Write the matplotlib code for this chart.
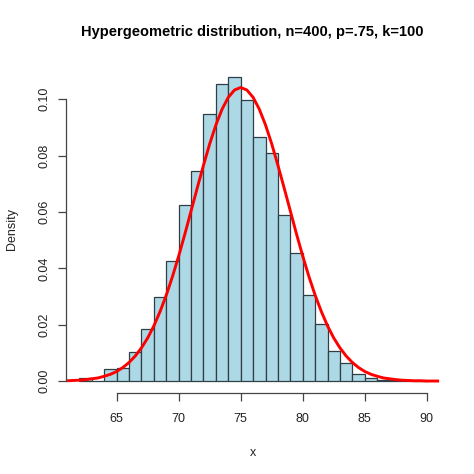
import matplotlib
matplotlib.use("Agg")
import matplotlib.pyplot as plt

# histogram (density), unit-wide bins from 62 to 90
bin_left = list(range(62, 90))
density = [0.0009, 0.0000, 0.0044, 0.0047, 0.0104, 0.0183, 0.0299, 0.0425,
           0.0626, 0.0746, 0.0949, 0.1053, 0.1080, 0.0996, 0.0867, 0.0808,
           0.0589, 0.0456, 0.0307, 0.0201, 0.0107, 0.0065, 0.0024, 0.0009,
           0.0004, 0.0002, 0.0000, 0.0001]

# red density curve
curve_x = [61, 61.5, 62, 62.5, 63, 63.5, 64, 64.5, 65, 65.5, 66, 66.5, 67, 67.5,
           68, 68.5, 69, 69.5, 70, 70.5, 71, 71.5, 72, 72.5, 73, 73.5, 74, 74.5,
           75, 75.5, 76, 76.5, 77, 77.5, 78, 78.5, 79, 79.5, 80, 80.5, 81, 81.5,
           82, 82.5, 83, 83.5, 84, 84.5, 85, 85.5, 86, 86.5, 87, 87.5, 88, 88.5,
           89, 89.5, 90, 90.5, 91]
curve_y = [0.0001, 0.0002, 0.0003, 0.0005, 0.0008, 0.0011, 0.0017, 0.0024,
           0.0034, 0.0048, 0.0066, 0.0089, 0.0118, 0.0153, 0.0196, 0.0247,
           0.0305, 0.0371, 0.0444, 0.0522, 0.0604, 0.0686, 0.0766, 0.0842,
           0.0909, 0.0965, 0.1007, 0.1033, 0.1042, 0.1033, 0.1007, 0.0965,
           0.0909, 0.0842, 0.0766, 0.0686, 0.0604, 0.0522, 0.0444, 0.0371,
           0.0305, 0.0247, 0.0196, 0.0153, 0.0118, 0.0089, 0.0066, 0.0048,
           0.0034, 0.0024, 0.0017, 0.0011, 0.0008, 0.0005, 0.0003, 0.0002,
           0.0001, 0.0001, 0.0000, 0.0000, 0.0000]

x_ticks = [65, 70, 75, 80, 85, 90]
y_ticks = [0.00, 0.02, 0.04, 0.06, 0.08, 0.10]

plt.rcParams["font.family"] = ["Liberation Sans", "DejaVu Sans"]

W = 474
fig = plt.figure(figsize=(4.74, 4.74), dpi=100)
ax = fig.add_axes([65.6 / W, (W - 393.2) / W, 375 / W, 328.6 / W])

ax.bar(bin_left, density, width=1, align="edge", color="#add8e6",
       edgecolor="#2f3f45", linewidth=0.9)
ax.plot(curve_x, curve_y, color="red", linewidth=2.1, solid_capstyle="butt")

ax.set_xlim(60.88, 91.12)
ax.set_ylim(-0.00432, 0.11232)

for s in ["top", "right"]:
    ax.spines[s].set_visible(False)
ax.spines["left"].set_bounds(0, 0.10)
ax.spines["bottom"].set_bounds(65, 90)
for s in ["left", "bottom"]:
    ax.spines[s].set_color("#444444")
    ax.spines[s].set_linewidth(0.9)

ax.set_xticks(x_ticks)
ax.set_xticklabels([str(t) for t in x_ticks])
ax.set_yticks(y_ticks)
ax.set_yticklabels(["%.2f" % t for t in y_ticks], rotation=90, va="center")
ax.tick_params(axis="both", direction="out", length=6, width=0.9,
               color="#444444", labelcolor="#222222", labelsize=9)
ax.tick_params(axis="x", pad=8)
ax.tick_params(axis="y", pad=5)

ax.set_xlabel("x", fontsize=9, color="#222222")
ax.set_ylabel("Density", fontsize=9, color="#222222")
ax.xaxis.set_label_coords(0.5, -0.165)
ax.yaxis.set_label_coords(-0.126, 0.5)

fig.text(252 / W, 1 - 31.7 / W, "Hypergeometric distribution, n=400, p=.75, k=100",
         ha="center", va="center", fontsize=10.55, fontweight="bold")

fig.savefig("out.png", dpi=100, facecolor="white")
